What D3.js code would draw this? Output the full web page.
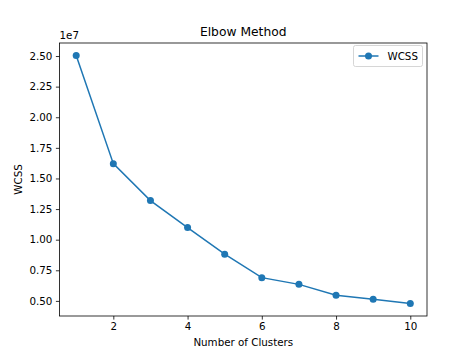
<!DOCTYPE html>
<html>
<head>
<meta charset="utf-8">
<script src="https://cdn.jsdelivr.net/npm/d3@7"></script>
<style>
  body { margin: 0; background: #fff; }
  text { font-family: "DejaVu Sans", sans-serif; fill: #000; }
</style>
</head>
<body>
<svg id="chart"></svg>
<script>
// cluster counts and WCSS (in units of 1e7)
const clusters = [1, 2, 3, 4, 5, 6, 7, 8, 9, 10]
const wcss = [2.505, 1.621, 1.319, 1.099, 0.882, 0.690, 0.635, 0.546, 0.513, 0.478]
const xTicks = [2, 4, 6, 8, 10]
const yTicks = [0.50, 0.75, 1.00, 1.25, 1.50, 1.75, 2.00, 2.25, 2.50]
const seriesName = 'WCSS'

document.addEventListener('DOMContentLoaded', function () {
  const width = 474
  const height = 355
  const margin = { top: 43, right: 47, bottom: 39, left: 59.5 }
  const colour = '#1f77b4'

  const svg = d3.select('#chart')
    .attr('width', width)
    .attr('height', height)

  const xPad = (d3.max(clusters) - d3.min(clusters)) * 0.05
  const yPad = (d3.max(wcss) - d3.min(wcss)) * 0.05

  const x = d3.scaleLinear()
    .domain([d3.min(clusters) - xPad, d3.max(clusters) + xPad])
    .range([margin.left, width - margin.right])

  const y = d3.scaleLinear()
    .domain([d3.min(wcss) - yPad, d3.max(wcss) + yPad])
    .range([height - margin.bottom, margin.top])

  const xAxis = svg.append('g')
    .attr('transform', `translate(0,${height - margin.bottom})`)
    .call(d3.axisBottom(x).tickValues(xTicks).tickSize(3.6).tickPadding(3.5).tickFormat(d3.format('d')))

  const yAxis = svg.append('g')
    .attr('transform', `translate(${margin.left},0)`)
    .call(d3.axisLeft(y).tickValues(yTicks).tickSize(3.6).tickPadding(3.5).tickFormat(d3.format('.2f')))

  for (const ax of [xAxis, yAxis]) {
    ax.select('.domain').remove()
    ax.selectAll('text').style('font-size', '10.3px').style('font-family', '"DejaVu Sans", sans-serif')
    ax.selectAll('line').attr('stroke', '#000').attr('stroke-width', 0.8)
  }

  // frame
  svg.append('rect')
    .attr('x', margin.left)
    .attr('y', margin.top)
    .attr('width', width - margin.left - margin.right)
    .attr('height', height - margin.top - margin.bottom)
    .attr('fill', 'none')
    .attr('stroke', '#000')
    .attr('stroke-width', 0.8)

  const line = d3.line()
    .x((d, i) => x(clusters[i]))
    .y(d => y(d))

  svg.append('path')
    .datum(wcss)
    .attr('d', line)
    .attr('fill', 'none')
    .attr('stroke', colour)
    .attr('stroke-width', 1.5)

  svg.append('g')
    .selectAll('circle')
    .data(wcss)
    .enter()
    .append('circle')
    .attr('cx', (d, i) => x(clusters[i]))
    .attr('cy', d => y(d))
    .attr('r', 3.5)
    .attr('fill', colour)

  const midX = (margin.left + width - margin.right) / 2

  svg.append('text')
    .attr('x', midX)
    .attr('y', 36)
    .attr('text-anchor', 'middle')
    .style('font-size', '12.3px')
    .text('Elbow Method')

  svg.append('text')
    .attr('x', midX)
    .attr('y', 346)
    .attr('text-anchor', 'middle')
    .style('font-size', '10.3px')
    .text('Number of Clusters')

  svg.append('text')
    .attr('transform', `translate(22,${(margin.top + height - margin.bottom) / 2}) rotate(-90)`)
    .attr('text-anchor', 'middle')
    .style('font-size', '10.3px')
    .text(seriesName)

  svg.append('text')
    .attr('x', margin.left)
    .attr('y', 39)
    .style('font-size', '10.3px')
    .text('1e7')

  // legend
  const lg = svg.append('g').attr('transform', 'translate(353.5,45.5)')
  lg.append('rect')
    .attr('width', 69)
    .attr('height', 21)
    .attr('rx', 2)
    .attr('fill', '#fff')
    .attr('fill-opacity', 0.8)
    .attr('stroke', '#ccc')
    .attr('stroke-width', 0.8)
  lg.append('line')
    .attr('x1', 5).attr('x2', 25)
    .attr('y1', 10.5).attr('y2', 10.5)
    .attr('stroke', colour)
    .attr('stroke-width', 1.5)
  lg.append('circle')
    .attr('cx', 15).attr('cy', 10.5).attr('r', 3.5)
    .attr('fill', colour)
  lg.append('text')
    .attr('x', 34)
    .attr('y', 14.3)
    .style('font-size', '10.3px')
    .text(seriesName)
}, false)
</script>
</body>
</html>
